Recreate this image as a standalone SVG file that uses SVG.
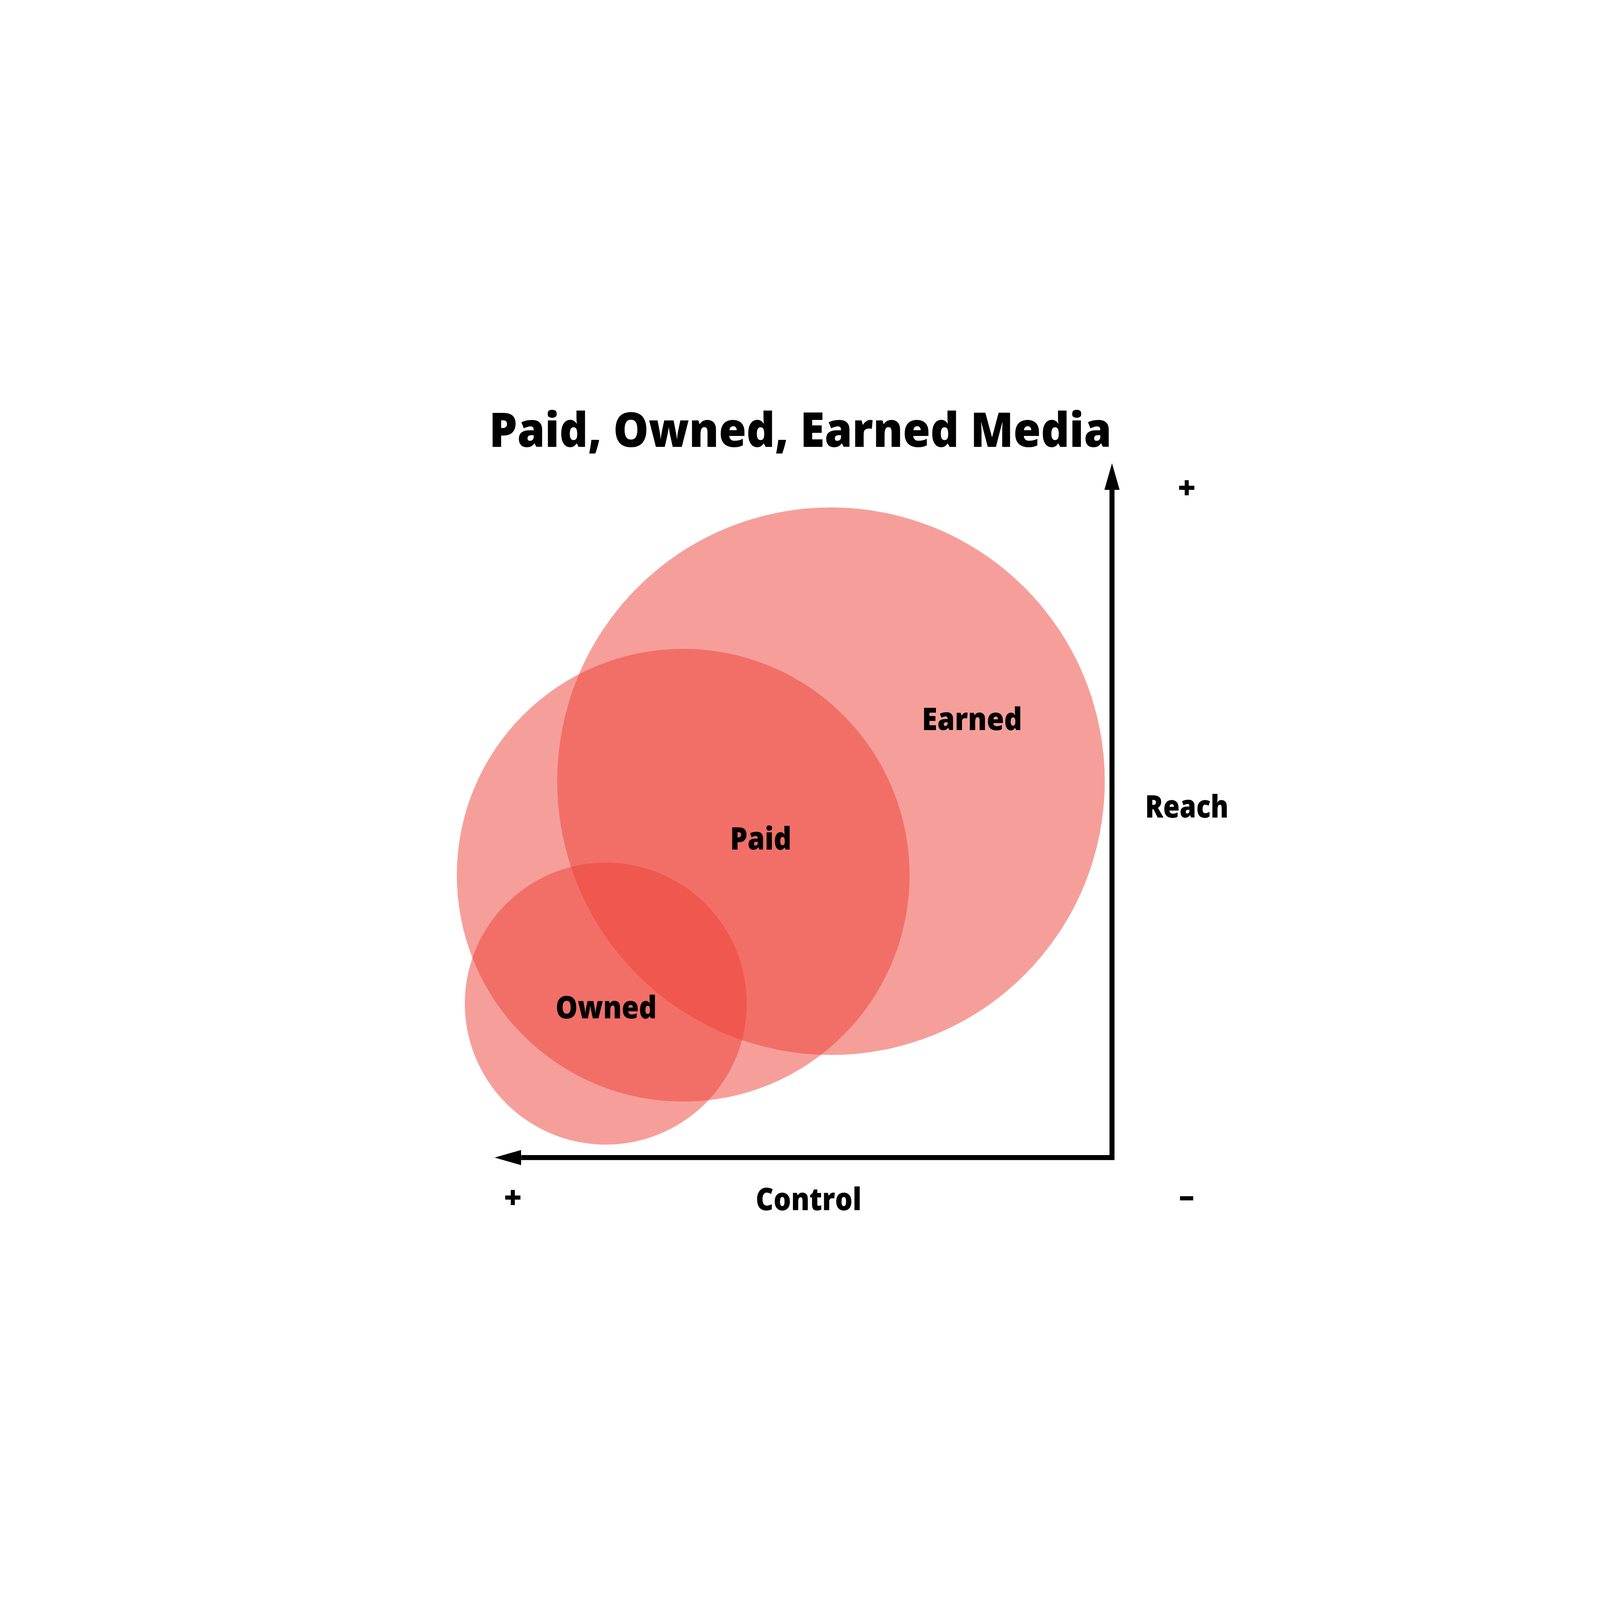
<svg xmlns="http://www.w3.org/2000/svg" width="8000" height="4500" viewBox="0 0 8000 4500" preserveAspectRatio="xMidYMid meet">
  <style>
    svg:root { width: 100vw; height: 100vh; }
    .bubble { fill: #EE4036; fill-opacity: 0.5; }
    .lbl { font-family: "Open Sans", "Liberation Sans", sans-serif; font-weight: 800; fill: #000000; text-anchor: middle; }
    .axis { fill: none; stroke: #000000; stroke-width: 25; stroke-linejoin: miter; stroke-linecap: butt; }
  </style>
  <defs>
    <marker id="arrow" viewBox="0 -38 133 76" markerWidth="133" markerHeight="76" refX="0" refY="0" markerUnits="userSpaceOnUse" orient="auto-start-reverse">
      <path d="M0,-38 L133,0 L0,38 Z" fill="#000000"/>
    </marker>
  </defs>
  <rect x="0" y="0" width="8000" height="4500" fill="#FFFFFF"/>

  <g id="title">
    <text class="lbl" x="4002" y="485" font-size="238" textLength="3112" lengthAdjust="spacingAndGlyphs">Paid, Owned, Earned Media</text>
  </g>

  <g id="earned">
    <circle class="bubble" cx="4155" cy="2156" r="1369"/>
    <text class="lbl" x="4860" y="1900" font-size="154" textLength="501" lengthAdjust="spacingAndGlyphs">Earned</text>
  </g>

  <g id="paid">
    <circle class="bubble" cx="3416" cy="2626" r="1132"/>
    <text class="lbl" x="3804" y="2498" font-size="154" textLength="307" lengthAdjust="spacingAndGlyphs">Paid</text>
  </g>

  <g id="owned">
    <circle class="bubble" cx="3029" cy="3268" r="705"/>
    <text class="lbl" x="3031" y="3341" font-size="154" textLength="506" lengthAdjust="spacingAndGlyphs">Owned</text>
  </g>

  <g id="connectors">
    <path class="axis" d="M2606,4038 H5560 V699" marker-start="url(#arrow)" marker-end="url(#arrow)"/>
  </g>

  <g id="reach-axis-labels">
    <text class="lbl" x="5934" y="2338" font-size="154" textLength="417" lengthAdjust="spacingAndGlyphs">Reach</text>
    <text class="lbl" x="5934" y="744" font-size="154">+</text>
  </g>

  <g id="control-axis-labels">
    <text class="lbl" x="4043" y="4300" font-size="154" textLength="529" lengthAdjust="spacingAndGlyphs">Control</text>
    <text class="lbl" x="2564" y="4292" font-size="154">+</text>
    <text class="lbl" x="5933" y="4284" font-size="154">–</text>
  </g>
</svg>
